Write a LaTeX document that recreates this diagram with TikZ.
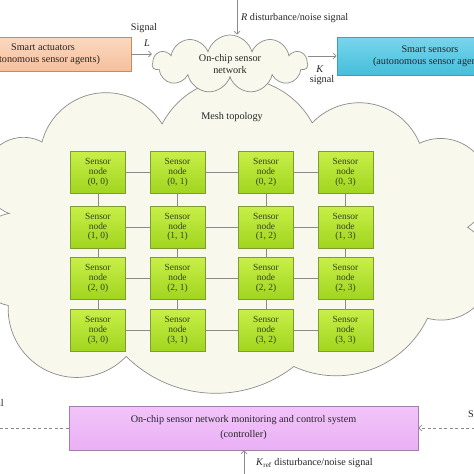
\documentclass[tikz,border=0pt]{standalone}
\usepackage{fontspec}
\setmainfont{Liberation Serif}
\usetikzlibrary{arrows.meta,shapes.symbols}
\definecolor{cloudfill}{HTML}{F8F9EC}
\definecolor{cloudline}{HTML}{8C8C8C}
\definecolor{linegray}{HTML}{8A8A8A}
\definecolor{txt}{HTML}{262626}
\definecolor{sntop}{HTML}{C8EF48}
\definecolor{snbot}{HTML}{A0D51E}
\definecolor{snline}{HTML}{7E9C34}
\definecolor{sntext}{HTML}{34401C}
\definecolor{acttop}{HTML}{FBD8C0}
\definecolor{actbot}{HTML}{F5C09C}
\definecolor{actline}{HTML}{C98B5E}
\definecolor{sentop}{HTML}{7AD5EC}
\definecolor{senbot}{HTML}{45BEDB}
\definecolor{senline}{HTML}{3E9EC0}
\definecolor{ctrltop}{HTML}{F2C4F9}
\definecolor{ctrlbot}{HTML}{EAB0F5}
\definecolor{ctrlline}{HTML}{A57DAE}
\tikzset{
  sn/.style={draw=snline, line width=0.7pt, top color=sntop, bottom color=snbot,
    minimum width=55pt, minimum height=42pt, inner sep=0pt, align=center,
    font=\fontsize{9.4}{9.8}\selectfont, text=sntext},
  meshline/.style={draw=linegray, line width=0.8pt},
  arr/.style={draw=linegray, line width=0.7pt, -{Straight Barb[length=3pt,width=6pt]}},
  dashline/.style={draw=linegray, line width=0.7pt, dash pattern=on 3pt off 2.5pt},
  lbl/.style={text=txt, inner sep=0pt},
}
\begin{document}
\begin{tikzpicture}[x=1pt,y=-1pt, font=\fontsize{10.2}{11.5}\selectfont]
\useasboundingbox (0,0) rectangle (474,474);
\fill[white] (0,0) rectangle (474,474);
\clip (0,0) rectangle (474,474);

% big mesh cloud
\draw[cloudline, fill=cloudfill, line width=0.7pt]
 (8,213) arc[start angle=113, end angle=298.2, radius=39.4]
 arc[start angle=194.7, end angle=328.2, radius=66.1]
 arc[start angle=207.6, end angle=331.6, radius=85]
 arc[start angle=223.6, end angle=337.9, radius=65]
 arc[start angle=244.2, end angle=416.3, radius=48.5]
 arc[start angle=301.9, end angle=465.6, radius=50.2]
 arc[start angle=25.6, end angle=114.7, radius=101.3]
 arc[start angle=52.1, end angle=134.8, radius=127.1]
 arc[start angle=43.9, end angle=182.8, radius=68.6]
 arc[start angle=101.6, end angle=259.7, radius=46.9]
 -- cycle;

% small cloud
\node[cloud, cloud puffs=11, cloud ignores aspect, minimum width=155pt, minimum height=58pt,
  draw=cloudline, fill=cloudfill, line width=0.7pt, align=center, inner sep=0pt, text=txt,
  font=\fontsize{10.2}{12}\selectfont]
  (net) at (230,64) {On-chip sensor\\network};

% boxes
\node[draw=actline, line width=0.7pt, top color=acttop, bottom color=actbot,
  minimum width=176pt, minimum height=34pt, align=center, text=txt]
  (act) at (43,54) {Smart actuators\\(autonomous sensor agents)};
\node[draw=senline, line width=0.7pt, top color=sentop, bottom color=senbot,
  minimum width=186pt, minimum height=38pt, align=center, text=txt,
  font=\fontsize{10.2}{12}\selectfont]
  (sen) at (430,56) {Smart sensors\\(autonomous sensor agents)};
\node[draw=ctrlline, line width=0.7pt, top color=ctrltop, bottom color=ctrlbot,
  minimum width=349pt, minimum height=44pt, align=center, text=txt,
  font=\fontsize{10.2}{15}\selectfont]
  (ctrl) at (243.5,428) {On-chip sensor network monitoring and control system\\(controller)};

% connectors top
\draw[arr] (act.east) -- (act.east -| net.west);
\draw[arr] (sen.west -| net.east) -- (sen.west);
\coordinate (rtop) at (237,-2);
\draw[arr] (rtop) -- (rtop |- net.north);

% labels top
\node[lbl] (sig1) at (144,28) {Signal};
\node[lbl] (lL) at (147,43) {\textit{L}};
\node[lbl, anchor=west] (rlab) at (241,18) {\textit{R} disturbance/noise signal};
\node[lbl] (kK) at (320,69) {\textit{K}};
\node[lbl] (ksig) at (322,80) {signal};
\node[lbl] (mesh) at (232,117) {Mesh topology};

% mesh nodes
\foreach \r/\y in {0/172.5,1/227,2/278.5,3/330.5}{
  \foreach \c/\x in {0/98,1/177.5,2/266,3/345.5}{
    \node[sn] (s\r\c) at (\x,\y) {Sensor\\node\\(\r, \c)};
  }
}
\foreach \r in {0,1,2,3}{
  \foreach \a/\b in {0/1,1/2,2/3}{
    \draw[meshline] (s\r\a.east) -- (s\r\b.west);
    \draw[meshline] (s\a\r.south) -- (s\b\r.north);
  }
}

% bottom connectors
\coordinate (dl) at (-6,428);
\coordinate (dr) at (480,428);
\coordinate (kb) at (244,480);
\draw[dashline] (ctrl.west) -- (dl);
\draw[dashline, arr, dash pattern=on 3pt off 2.5pt] (dr) -- (ctrl.east);
\draw[arr] (kb) -- (kb |- ctrl.south);
\node[lbl, anchor=east] (lsig) at (4,404) {Signal};
\node[lbl, anchor=west] (rsig) at (468,415) {Signal};
\node[lbl, anchor=west] (kref) at (256,463) {\textit{K}\textsubscript{ref} disturbance/noise signal};
\end{tikzpicture}
\end{document}
